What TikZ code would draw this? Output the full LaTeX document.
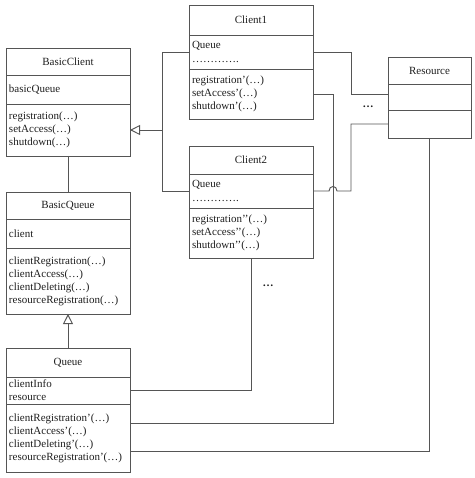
\documentclass[tikz,border=0pt]{standalone}
\usepackage{fontspec}
\setmainfont{Liberation Serif}
\usetikzlibrary{arrows.meta,positioning}
\definecolor{linegray}{HTML}{555555}
\definecolor{inkgray}{HTML}{1E1E1E}

\begin{document}
\begin{tikzpicture}[x=1pt,y=-1pt,node distance=0pt,line width=0.95pt,color=linegray,
	gen/.style={-{Triangle[length=10pt,width=10pt,fill=white]}}]
	\tikzstyle{every node}=[font=\fontsize{11}{13}\selectfont,text=inkgray,outer sep=0pt]
	\tikzstyle{head}=[draw=linegray,minimum width=124pt,inner sep=0pt]
	\tikzstyle{part}=[draw=linegray,minimum width=124pt,text width=118pt,inner xsep=3pt,inner ysep=0pt,align=left]

	\useasboundingbox (0,0) rectangle (474,478);

	\node[head,minimum height=27pt] (bc-title) at (68,61.5) {BasicClient};
	\node[part,minimum height=29pt,below=of bc-title] (bc-attr) {basicQueue};
	\node[part,minimum height=52pt,below=of bc-attr] (bc-ops) {registration(…)\\setAccess(…)\\shutdown(…)};

	\node[head,minimum height=27pt] (bq-title) at (68,205.5) {BasicQueue};
	\node[part,minimum height=29pt,below=of bq-title] (bq-attr) {client};
	\node[part,minimum height=66pt,below=of bq-attr] (bq-ops) {clientRegistration(…)\\clientAccess(…)\\clientDeleting(…)\\resourceRegistration(…)};

	\node[head,minimum height=29pt] (q-title) at (68,362.5) {Queue};
	\node[part,minimum height=27pt,below=of q-title] (q-attr) {clientInfo\\resource};
	\node[part,minimum height=68pt,below=of q-attr] (q-ops) {clientRegistration’(…)\\clientAccess’(…)\\clientDeleting’(…)\\resourceRegistration’(…)};

	\node[head,minimum height=30pt] (c1-title) at (251,20) {Client1};
	\node[part,minimum height=34pt,below=of c1-title] (c1-attr) {Queue\\[1pt]………….};
	\node[part,minimum height=50pt,below=of c1-attr] (c1-ops) {registration’(…)\\setAccess’(…)\\shutdown’(…)};

	\node[head,minimum height=28pt] (c2-title) at (251,160) {Client2};
	\node[part,minimum height=34pt,below=of c2-title] (c2-attr) {Queue\\[1pt]………….};
	\node[part,minimum height=50pt,below=of c2-attr] (c2-ops) {registration’{}’(…)\\setAccess’{}’(…)\\shutdown’{}’(…)};

	\node[head,minimum width=83pt,minimum height=27pt] (r-title) at (429.5,70.5) {Resource};
	\node[part,minimum width=83pt,text width=77pt,minimum height=26pt,below=of r-title] (r-mid) {};
	\node[part,minimum width=83pt,text width=77pt,minimum height=28pt,below=of r-mid] (r-low) {};

	\node (dots1) at (368,107) {\textbf{…}};
	\node (dots2) at (268,286) {\textbf{…}};

	\draw (bc-ops.south) -- (bq-title.north);
	\draw[gen] (q-title.north) -- (bq-ops.south);
	\draw (c1-attr.west) -- ++(-27,0) |- (bc-ops.east);
	\draw[gen] (c2-attr.west) -- ++(-27,0) |- (bc-ops.east);
	\draw (c1-attr.east) -- ++(38,0) |- ([yshift=3pt]r-mid.west);
	\draw (c1-ops.east) -- ++(20,0) |- ([yshift=15pt]q-ops.east);
	\draw (c2-attr.east) -- (329,191) .. controls (329,185) and (337,185) .. (337,191) -- (351,191) |- (r-low.west);
	\draw (c2-ops.south) |- (q-attr.east);
	\draw (r-low.south) |- ([yshift=-13pt]q-ops.east);
\end{tikzpicture}
\end{document}
